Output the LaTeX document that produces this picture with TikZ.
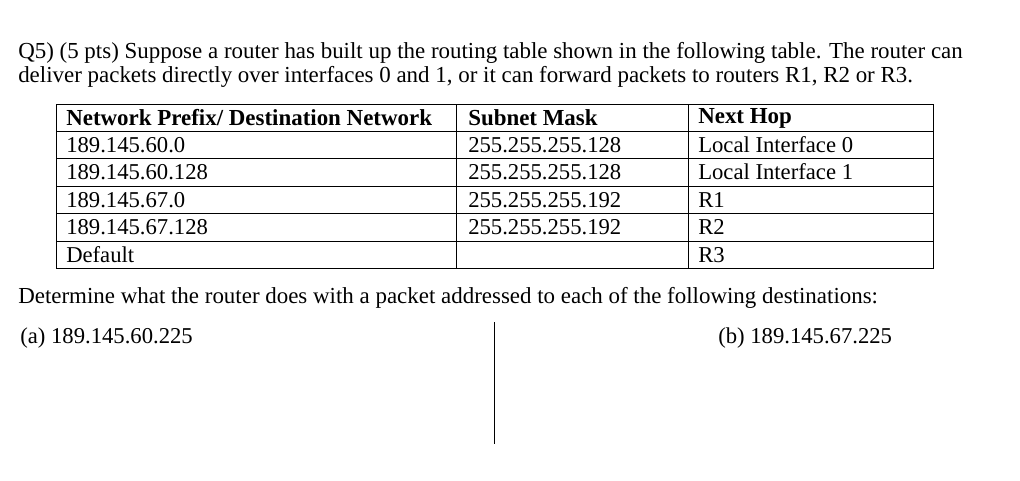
\documentclass[tikz,border=0pt]{standalone}
\usepackage{fontspec}
\setmainfont{Liberation Serif}
\begin{document}
\begin{tikzpicture}[x=0.75pt,y=-0.75pt,
 txt/.style={anchor=west,inner sep=0pt,font=\fontsize{17.2}{20}\selectfont},
 hdr/.style={txt,font=\fontsize{17.2}{20}\selectfont\bfseries},
 cell/.style={txt,font=\fontsize{17}{20}\selectfont}]
\useasboundingbox (0,0) rectangle (1020,480);
\node[txt] (l1) at (18,53) {Q5) (5 pts) Suppose a router has built up the routing table shown in the following table. The router can};
\node[txt] (l2) at (18,77) {deliver packets directly over interfaces 0 and 1, or it can forward packets to routers R1, R2 or R3.};
\draw (56,104) rectangle (933,268);
\foreach \y in {131,158,186,213,241} \draw (56,\y) -- (933,\y);
\draw (456,104) -- (456,268);
\draw (688,104) -- (688,268);
\node[hdr] (h1) at (66,118) {Network Prefix/ Destination Network};
\node[hdr] (h2) at (468,118) {Subnet Mask};
\node[hdr] (h3) at (698,118) {Next Hop};
\node[cell] (a1) at (66,145) {189.145.60.0};
\node[cell] (a2) at (66,172) {189.145.60.128};
\node[cell] (a3) at (66,200) {189.145.67.0};
\node[cell] (a4) at (66,227) {189.145.67.128};
\node[cell] (a5) at (66,255) {Default};
\node[cell] (b1) at (468,145) {255.255.255.128};
\node[cell] (b2) at (468,172) {255.255.255.128};
\node[cell] (b3) at (468,200) {255.255.255.192};
\node[cell] (b4) at (468,227) {255.255.255.192};
\node[cell] (c1) at (698,145) {Local Interface 0};
\node[cell] (c2) at (698,172) {Local Interface 1};
\node[cell] (c3) at (698,200) {R1};
\node[cell] (c4) at (698,227) {R2};
\node[cell] (c5) at (698,255) {R3};
\node[txt] (d) at (18,298) {Determine what the router does with a packet addressed to each of the following destinations:};
\node[cell] (qa) at (20,338) {(a) 189.145.60.225};
\node[cell] (qb) at (718,338) {(b) 189.145.67.225};
\coordinate (v1) at (494,322);
\coordinate (v2) at (494,444);
\draw (v1) -- (v2);
\end{tikzpicture}
\end{document}
